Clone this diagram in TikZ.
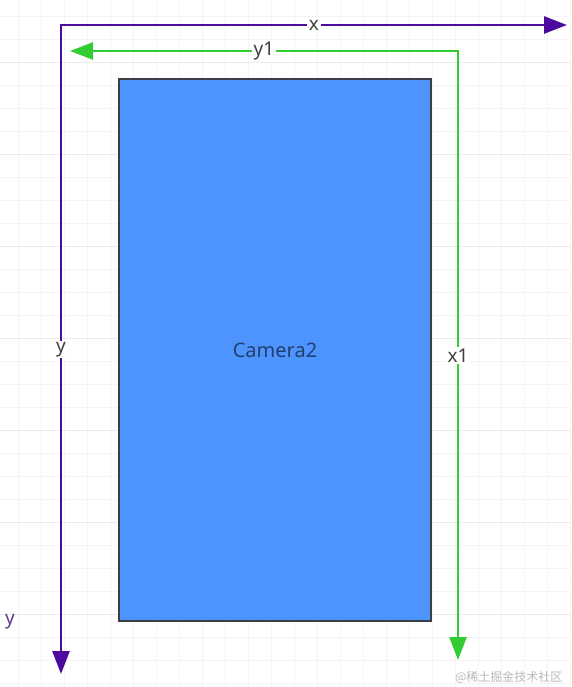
\documentclass[tikz,border=0pt]{standalone}
\usepackage{fontspec}
\setmainfont{Noto Sans}
\newfontfamily\cjkfont{Noto Sans CJK SC}
\usetikzlibrary{arrows.meta,calc}

\begin{document}
\begin{tikzpicture}[x=1pt,y=-1pt,
    axis/.style={line width=2.6pt,{Triangle[length=23pt,width=17pt]}-{Triangle[length=23pt,width=17pt]}},
    lbl/.style={fill=white,inner sep=1.5pt,font=\fontsize{19}{22}\selectfont,text=lbl_gray}]
    \definecolor{ax_purple}{HTML}{4C0B9E}
    \definecolor{ax_green}{HTML}{33CC33}
    \definecolor{cam_blue}{HTML}{4D94FF}
    \definecolor{cam_edge}{HTML}{3A3F47}
    \definecolor{lbl_gray}{HTML}{404040}
    \definecolor{cam_text}{HTML}{233F6E}
    \useasboundingbox[fill=white] (0,0) rectangle (571,687);
    %\draw[help lines] (0,0) grid (571,687);
    \foreach \gx in {18,41,...,571} \draw[gray!9,line width=0.8pt] (\gx,0) -- (\gx,687);
    \foreach \gy in {16,39,...,687} \draw[gray!9,line width=0.8pt] (0,\gy) -- (571,\gy);
    \foreach \gy in {62,154,...,687} \draw[gray!16,line width=0.8pt] (0,\gy) -- (571,\gy);

    \node[draw=cam_edge,fill=cam_blue,line width=2.2pt,minimum width=312pt,minimum height=542pt,
        font=\fontsize{20}{24}\selectfont,text=cam_text] (cam) at (275,350) {Camera2};

    \coordinate (origin) at (61,25);
    \coordinate (xend) at (567,25);
    \coordinate (yend) at (61,674);
    \coordinate (origin1) at (458,51);
    \coordinate (y1end) at (70,51);
    \coordinate (x1end) at (458,660);

    \draw[axis,ax_purple] (yend) -- (origin) -- (xend);
    \draw[axis,ax_green] (y1end) -- (origin1) -- (x1end);
    \node[lbl] (xlab) at ($(origin)!0.5!(xend)$) {x};
    \node[lbl] (ylab) at ($(origin)!0.5!(yend)$) {y};
    \node[lbl] (y1lab) at ($(origin1)!0.5!(y1end)$) {y1};
    \node[lbl] (x1lab) at ($(origin1)!0.5!(x1end)$) {x1};

    \node[font=\fontsize{19}{22}\selectfont,text=ax_purple!60!gray] (ylone) at (10,622) {y};
    \node[font=\cjkfont\fontsize{12}{14}\selectfont,text=gray!55,anchor=east] (mark) at (566,677) {@稀土掘金技术社区};
\end{tikzpicture}
\end{document}
